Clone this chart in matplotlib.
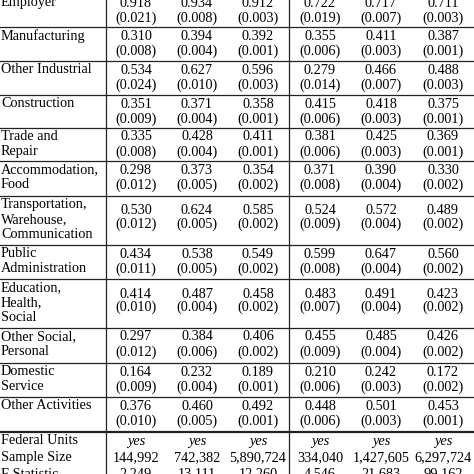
import matplotlib.pyplot as plt

# SETTINGS
rows = ["Employer", "Manufacturing", "Other Industrial", "Construction", "Trade and\nRepair",
        "Accommodation,\nFood", "Transportation,\nWarehouse,\nCommunication", "Public\nAdministration",
        "Education,\nHealth,\nSocial", "Other Social,\nPersonal", "Domestic\nService", "Other Activities"]
coef = [
    [0.918, 0.934, 0.912, 0.722, 0.717, 0.711],
    [0.310, 0.394, 0.392, 0.355, 0.411, 0.387],
    [0.534, 0.627, 0.596, 0.279, 0.466, 0.488],
    [0.351, 0.371, 0.358, 0.415, 0.418, 0.375],
    [0.335, 0.428, 0.411, 0.381, 0.425, 0.369],
    [0.298, 0.373, 0.354, 0.371, 0.390, 0.330],
    [0.530, 0.624, 0.585, 0.524, 0.572, 0.489],
    [0.434, 0.538, 0.549, 0.599, 0.647, 0.560],
    [0.414, 0.487, 0.458, 0.483, 0.491, 0.423],
    [0.297, 0.384, 0.406, 0.455, 0.485, 0.426],
    [0.164, 0.232, 0.189, 0.210, 0.242, 0.172],
    [0.376, 0.460, 0.492, 0.448, 0.501, 0.453],
]
se = [
    [0.021, 0.008, 0.003, 0.019, 0.007, 0.003],
    [0.008, 0.004, 0.001, 0.006, 0.003, 0.001],
    [0.024, 0.010, 0.003, 0.014, 0.007, 0.003],
    [0.009, 0.004, 0.001, 0.006, 0.003, 0.001],
    [0.008, 0.004, 0.001, 0.006, 0.003, 0.001],
    [0.012, 0.005, 0.002, 0.008, 0.004, 0.002],
    [0.012, 0.005, 0.002, 0.009, 0.004, 0.002],
    [0.011, 0.005, 0.002, 0.008, 0.004, 0.002],
    [0.010, 0.004, 0.002, 0.007, 0.004, 0.002],
    [0.012, 0.006, 0.002, 0.009, 0.004, 0.002],
    [0.009, 0.004, 0.001, 0.006, 0.003, 0.002],
    [0.010, 0.005, 0.001, 0.006, 0.003, 0.001],
]
sample_size = ["144,992", "742,382", "5,890,724", "334,040", "1,427,605", "6,297,724"]
f_stat = ["2,249", "13,111", "12,260", "4,546", "21,683", "99,162"]

# layout (pixels)
col_x = [136, 197, 258, 320, 381, 443]
row_top = [-6, 27, 61, 95, 128, 161, 196, 245, 279, 328, 363, 397]
row_bot = row_top[1:] + [432]
fs = 10.3
font = "Liberation Serif"

fig = plt.figure(figsize=(4.74, 4.74), dpi=100)
ax = fig.add_axes([0, 0, 1, 1])
ax.set_xlim(0, 474)
ax.set_ylim(474, 0)
ax.axis('off')

for i, lab in enumerate(rows):
    t, b = row_top[i], row_bot[i]
    nlines = lab.count("\n") + 1
    ax.text(1, t + 2, lab, fontsize=fs, family=font, va='top', ha='left', linespacing=1.2)
    if nlines == 3:
        y1, y2 = t + 15, t + 28
    else:
        y1, y2 = t + 9, t + 24
    for j, x in enumerate(col_x):
        ax.text(x, y1, f"{coef[i][j]:.3f}", fontsize=fs, family=font, ha='center', va='center')
        ax.text(x, y2, f"({se[i][j]:.3f})", fontsize=fs, family=font, ha='center', va='center')
    ax.plot([0, 474], [b, b], color='#222222', lw=1.6 if i == len(rows) - 1 else 0.9)

foot = [("Federal Units", ["yes"] * 6, True), ("Sample Size", sample_size, False), ("F Statistic", f_stat, False)]
for k, (lab, vals, ital) in enumerate(foot):
    y = 441 + 16.5 * k
    ax.text(1, y, lab, fontsize=fs, family=font, va='center', ha='left')
    for j, x in enumerate(col_x):
        ax.text(x, y, vals[j], fontsize=fs, family=font, ha='center', va='center',
                style='italic' if ital else 'normal')

for x in [106, 289]:
    ax.plot([x, x], [-5, 480], color='#222222', lw=0.9)

fig.savefig("out.png", dpi=100)
